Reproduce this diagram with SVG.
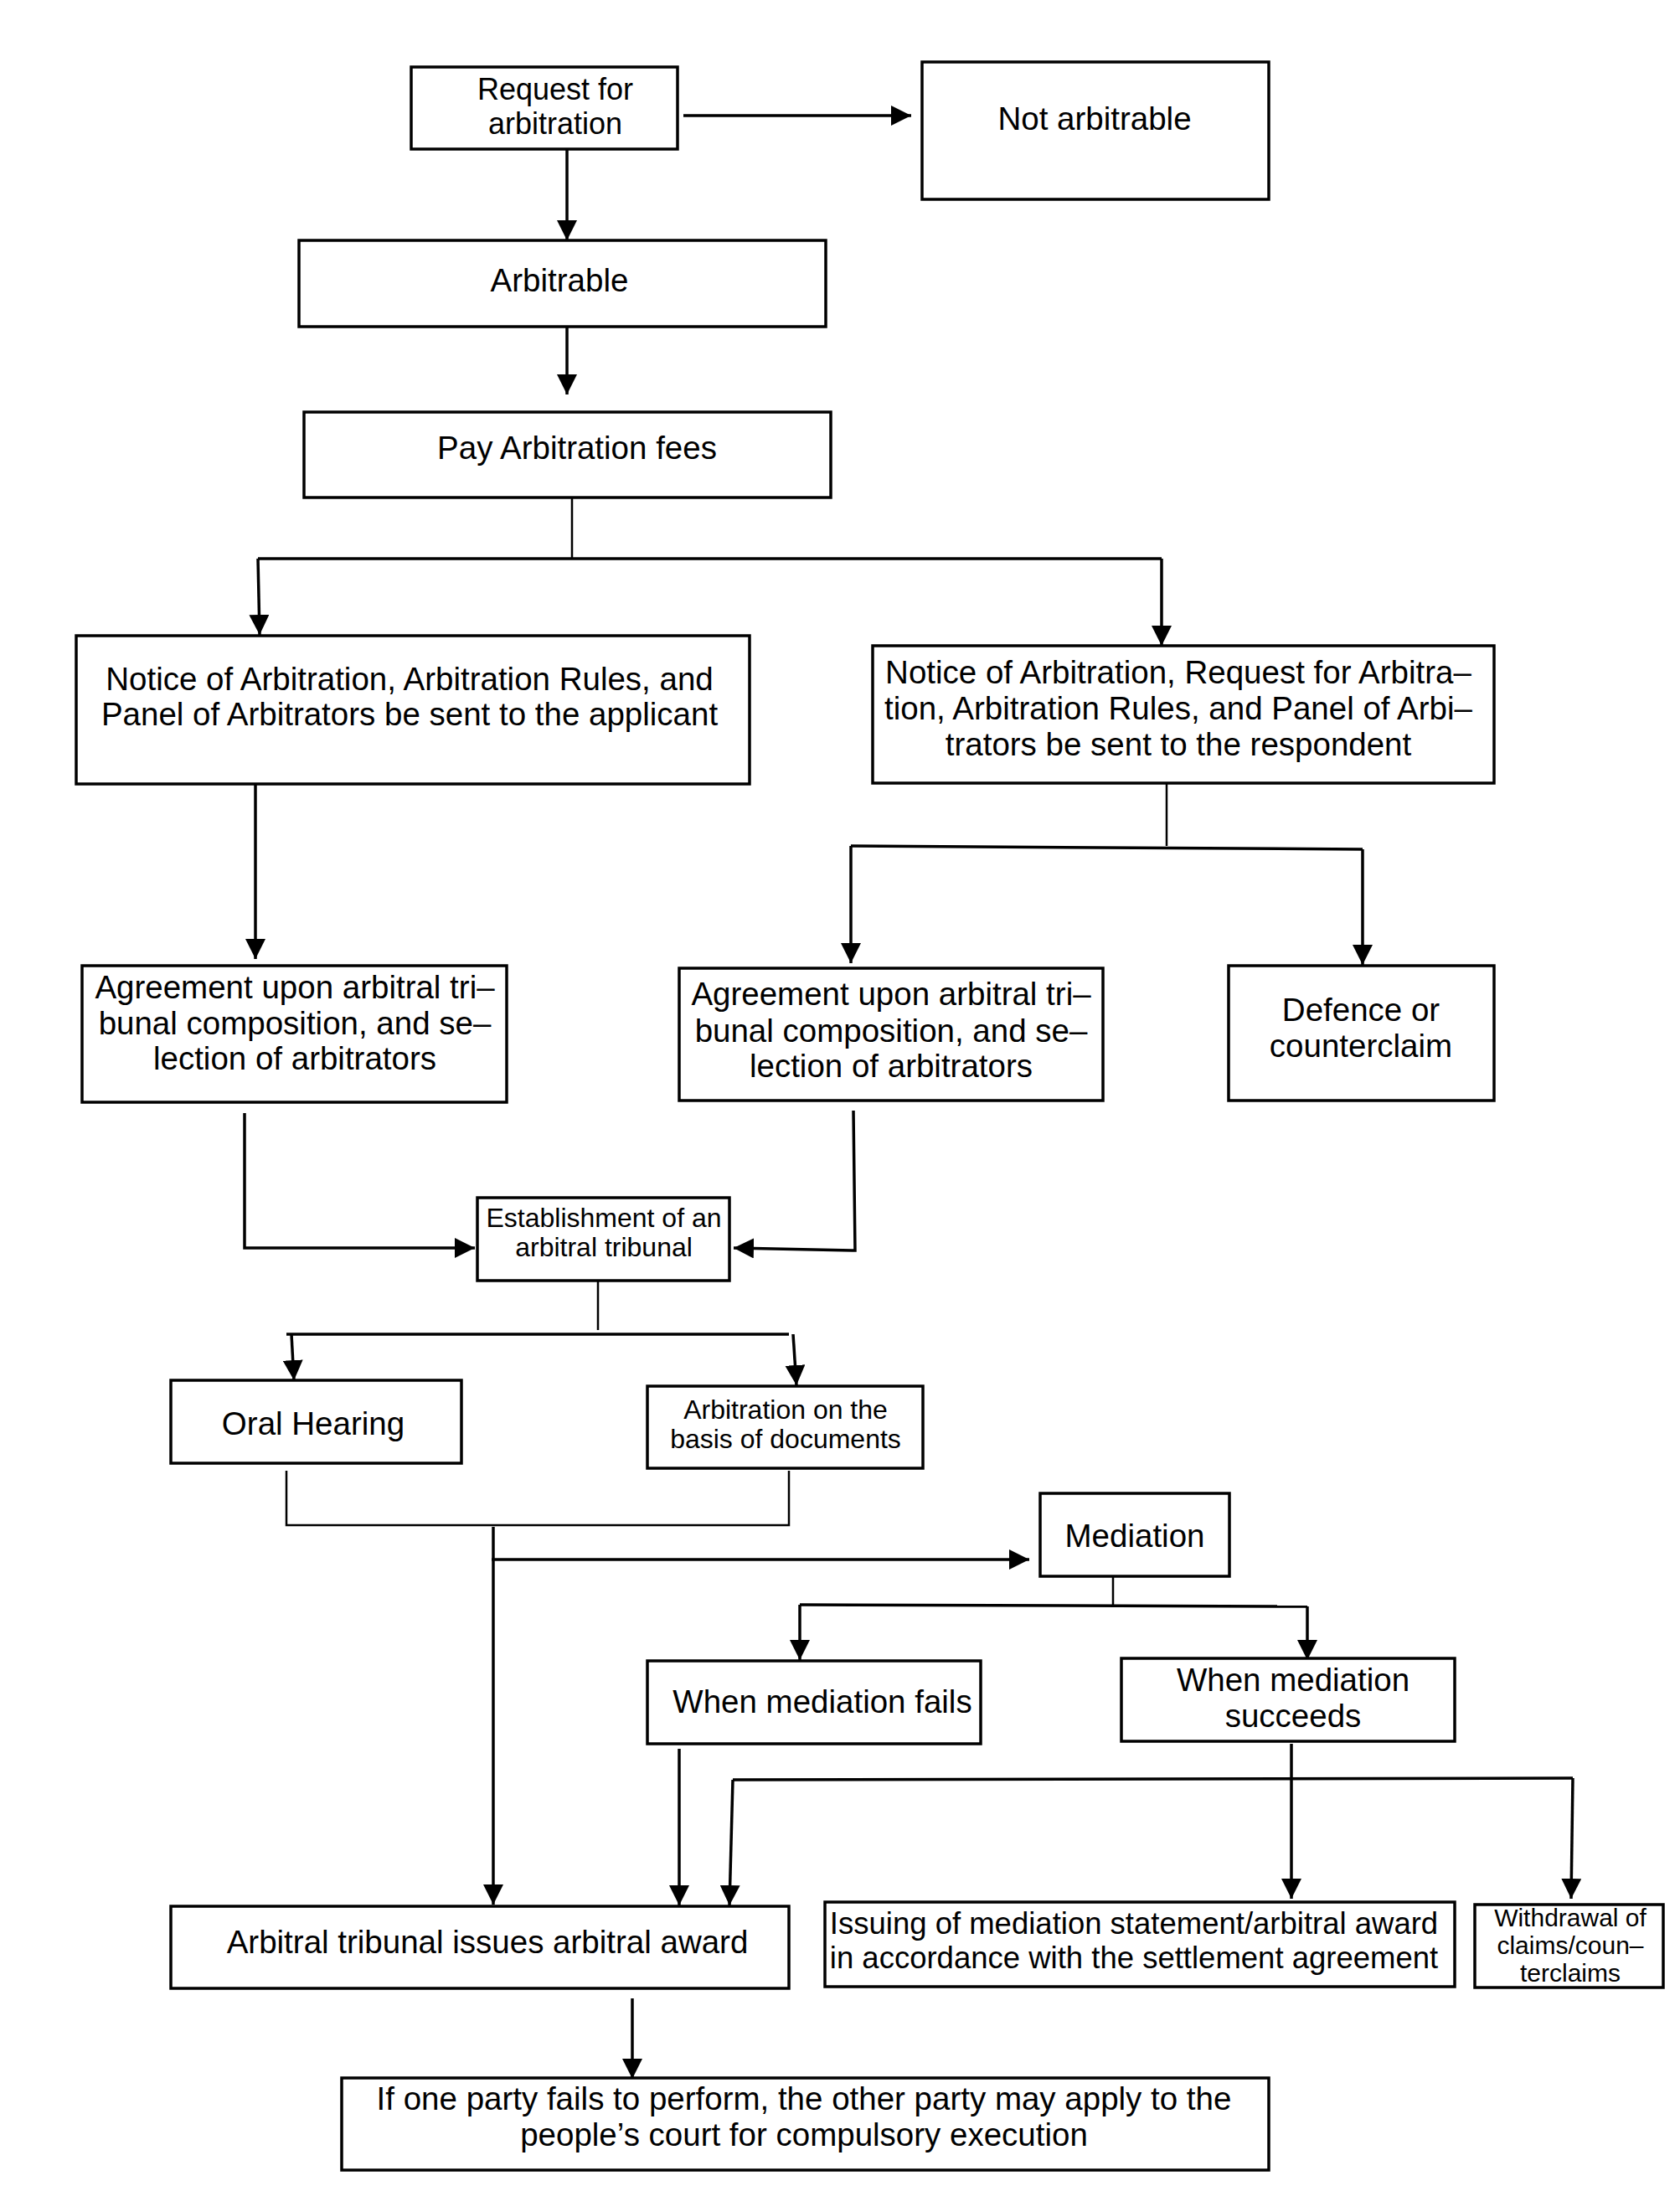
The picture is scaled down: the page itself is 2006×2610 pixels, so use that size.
<svg xmlns="http://www.w3.org/2000/svg" width="2006" height="2610" viewBox="0 0 2006 2610">
<defs>
<style>
.box{fill:#fff;stroke:#000;stroke-width:3.5}
.t{font-family:"Liberation Sans",Arial,sans-serif;font-size:38.5px;fill:#000;text-anchor:middle}
.s{font-size:32px}
.xs{font-size:30px}
.c{fill:none;stroke:#000;stroke-width:3.5}
.a{fill:none;stroke:#000;stroke-width:3.5;marker-end:url(#ah)}
.thin{fill:none;stroke:#000;stroke-width:2.5}
</style>
<marker id="ah" markerUnits="userSpaceOnUse" markerWidth="24" markerHeight="24" viewBox="0 0 24 24" refX="24" refY="12" orient="auto">
<path d="M0,0 L24,12 L0,24 z" fill="#000"/>
</marker>
</defs>
<rect width="2006" height="2610" fill="#fff"/>
<g id="connectors">
<path class="a" d="M816,138 L1088,138"/>
<path class="a" d="M677,178 L677,287"/>
<path class="a" d="M677,390 L677,471"/>
<path class="thin" d="M683,594 L683,667"/>
<path class="c" d="M308,667 L1387,667"/>
<path class="a" d="M308,667 L310,758"/>
<path class="a" d="M1387,667 L1387,771"/>
<path class="a" d="M305,936 L305,1145"/>
<path class="thin" d="M1393,935 L1393,1010"/>
<path class="c" d="M1016,1010 L1627,1014"/>
<path class="a" d="M1016,1010 L1016,1150"/>
<path class="a" d="M1627,1014 L1627,1152"/>
<path class="a" d="M292,1329 L292,1490 L567,1490"/>
<path class="a" d="M1019,1326 L1021,1493 L876,1490"/>
<path class="thin" d="M714,1529 L714,1588"/>
<path class="c" d="M342,1593 L942,1593"/>
<path class="a" d="M348,1593 L351,1648"/>
<path class="a" d="M947,1593 L951,1654"/>
<path class="thin" d="M342,1756 L342,1821 L942,1821 L942,1756"/>
<path class="a" d="M589,1823 L589,2274"/>
<path class="a" d="M587,1862 L1229,1862"/>
<path class="thin" d="M1329,1882 L1329,1917"/>
<path class="c" d="M955,1916 L1561,1918"/>
<path class="a" d="M955,1916 L955,1982"/>
<path class="a" d="M1561,1918 L1561,1982"/>
<path class="a" d="M811,2088 L811,2275"/>
<path class="a" d="M1542,2082 L1542,2267"/>
<path class="c" d="M875,2125 L1878,2123"/>
<path class="a" d="M875,2125 L871,2275"/>
<path class="a" d="M1878,2123 L1876,2267"/>
<path class="a" d="M755,2386 L755,2482"/>
</g>
<g id="n-request"><rect class="box" x="491" y="80" width="318" height="98"/><text class="t" style="font-size:36px" x="663" y="119">Request for</text><text class="t" style="font-size:36px" x="663" y="160">arbitration</text></g>
<g id="n-not"><rect class="box" x="1101" y="74" width="414" height="164"/><text class="t" x="1307" y="155">Not arbitrable</text></g>
<g id="n-arbitrable"><rect class="box" x="357" y="287" width="629" height="103"/><text class="t" x="668" y="348">Arbitrable</text></g>
<g id="n-pay"><rect class="box" x="363" y="492" width="629" height="102"/><text class="t" x="689" y="548">Pay Arbitration fees</text></g>
<g id="n-applicant"><rect class="box" x="91" y="759" width="804" height="177"/><text class="t" x="489" y="824">Notice of Arbitration, Arbitration Rules, and</text><text class="t" x="489" y="866">Panel of Arbitrators be sent to the applicant</text></g>
<g id="n-respondent"><rect class="box" x="1042" y="771" width="742" height="164"/><text class="t" x="1407" y="816">Notice of Arbitration, Request for Arbitra–</text><text class="t" x="1407" y="859">tion, Arbitration Rules, and Panel of Arbi–</text><text class="t" x="1407" y="902">trators be sent to the respondent</text></g>
<g id="n-agree1"><rect class="box" x="98" y="1153" width="507" height="163"/><text class="t" x="352" y="1192">Agreement upon arbitral tri–</text><text class="t" x="352" y="1235">bunal composition, and se–</text><text class="t" x="352" y="1277">lection of arbitrators</text></g>
<g id="n-agree2"><rect class="box" x="811" y="1156" width="506" height="158"/><text class="t" x="1064" y="1200">Agreement upon arbitral tri–</text><text class="t" x="1064" y="1244">bunal composition, and se–</text><text class="t" x="1064" y="1286">lection of arbitrators</text></g>
<g id="n-defence"><rect class="box" x="1467" y="1153" width="317" height="161"/><text class="t" x="1625" y="1219">Defence or</text><text class="t" x="1625" y="1262">counterclaim</text></g>
<g id="n-establish"><rect class="box" x="570" y="1430" width="301" height="99"/><text class="t s" x="721" y="1465">Establishment of an</text><text class="t s" x="721" y="1500">arbitral tribunal</text></g>
<g id="n-oral"><rect class="box" x="204" y="1648" width="347" height="99"/><text class="t" x="374" y="1713">Oral Hearing</text></g>
<g id="n-docs"><rect class="box" x="773" y="1655" width="329" height="98"/><text class="t s" x="938" y="1694">Arbitration on the</text><text class="t s" x="938" y="1729">basis of documents</text></g>
<g id="n-mediation"><rect class="box" x="1242" y="1783" width="226" height="99"/><text class="t" x="1355" y="1847">Mediation</text></g>
<g id="n-fails"><rect class="box" x="773" y="1983" width="398" height="99"/><text class="t" x="982" y="2045">When mediation fails</text></g>
<g id="n-succeeds"><rect class="box" x="1339" y="1980" width="398" height="99"/><text class="t" x="1544" y="2019">When mediation</text><text class="t" x="1544" y="2062">succeeds</text></g>
<g id="n-award"><rect class="box" x="204" y="2276" width="738" height="98"/><text class="t" x="582" y="2332">Arbitral tribunal issues arbitral award</text></g>
<g id="n-issuing"><rect class="box" x="985" y="2271" width="752" height="101"/><text class="t" style="font-size:36.5px" x="1354" y="2309">Issuing of mediation statement/arbitral award</text><text class="t" style="font-size:36.5px" x="1354" y="2350">in accordance with the settlement agreement</text></g>
<g id="n-withdrawal"><rect class="box" x="1761" y="2274" width="225" height="99"/><text class="t xs" x="1875" y="2300">Withdrawal of</text><text class="t xs" x="1875" y="2333">claims/coun–</text><text class="t xs" x="1875" y="2366">terclaims</text></g>
<g id="n-execution"><rect class="box" x="408" y="2481" width="1107" height="110"/><text class="t" x="960" y="2519">If one party fails to perform, the other party may apply to the</text><text class="t" x="960" y="2562">people’s court for compulsory execution</text></g>
</svg>
